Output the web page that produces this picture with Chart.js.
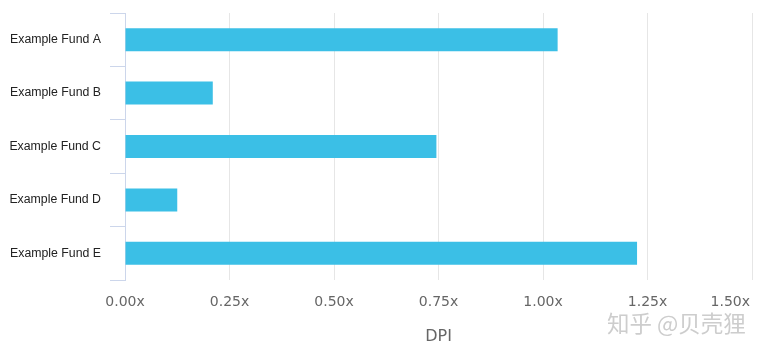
<!doctype html>
<html>
<head>
<title>DPI Chart</title>
<script src="https://cdn.jsdelivr.net/npm/chart.js@4/dist/chart.umd.min.js"></script>
<style>
html, body { margin: 0; padding: 0; background: #fff; }
#container { width: 768px; height: 354px; }
</style>
</head>
<body>
	<div id="container">
		<canvas id="canvas"></canvas>
	</div>

	<script>
		// chart values
		var funds = ['Example Fund A', 'Example Fund B', 'Example Fund C', 'Example Fund D', 'Example Fund E'];
		var dpiValues = [1.035, 0.21, 0.745, 0.125, 1.225];
		var xTickStep = 0.25;
		var xMax = 1.5;
		var xTitle = 'DPI';
		var watermark = '知乎 @贝壳狸';

		function fmtTick(v)
		{
			return Number(v).toFixed(2) + 'x';
		}

		// x tick labels drawn from the scale, last one pulled inside the canvas
		var xLabelsPlugin = {
			id: 'xLabels',
			afterDraw: function(chart) {
				var ctx = chart.ctx;
				var scale = chart.scales.x;
				ctx.save();
				ctx.font = '14px "DejaVu Sans"';
				ctx.fillStyle = '#666666';
				ctx.textBaseline = 'middle';
				ctx.textAlign = 'left';
				scale.ticks.forEach(function(t) {
					var txt = fmtTick(t.value);
					var w = ctx.measureText(txt).width;
					var x = scale.getPixelForValue(t.value) - w / 2;
					if (x + w > chart.width - 18) x = chart.width - 18 - w;
					ctx.fillText(txt, x, 302);
				});
				// watermark
				ctx.font = '22.5px "Noto Sans CJK SC"';
				ctx.fillStyle = '#cdcdcd';
				ctx.textBaseline = 'alphabetic';
				ctx.fillText(watermark, 607, 332);
				ctx.restore();
			}
		};

		var ctx = document.getElementById('canvas').getContext('2d');
		window.myChart = new Chart(ctx, {
			type: 'bar',
			data: {
				labels: funds,
				datasets: [{
					label: xTitle,
					data: dpiValues,
					backgroundColor: '#3bbfe6',
					borderWidth: 0,
					categoryPercentage: 1,
					barPercentage: 0.43
				}]
			},
			options: {
				indexAxis: 'y',
				responsive: true,
				maintainAspectRatio: false,
				animation: false,
				layout: { padding: { top: 13, right: 16, left: 0, bottom: 0 } },
				plugins: {
					legend: { display: false },
					tooltip: { enabled: false }
				},
				scales: {
					x: {
						min: 0,
						max: xMax,
						ticks: { stepSize: xTickStep, display: false, callback: fmtTick },
						grid: { color: '#e6e6e6', lineWidth: 1, drawTicks: false },
						border: { display: false },
						title: {
							display: true,
							text: xTitle,
							color: '#666666',
							font: { family: 'DejaVu Sans', size: 16 },
							padding: { top: 0, bottom: 8 }
						},
						afterFit: function(s) {
							s.height = 74;
							s.paddingLeft = 0;
							s.paddingRight = 0;
						}
					},
					y: {
						offset: true,
						ticks: {
							color: '#222222',
							font: { family: 'Liberation Sans', size: 12.3 },
							padding: 9
						},
						grid: {
							offset: true,
							drawOnChartArea: false,
							tickLength: 15,
							color: '#ccd6eb'
						},
						border: { display: true, color: '#ccd6eb', width: 1 },
						afterFit: function(s) {
							s.width = 125;
							s.paddingTop = 0;
							s.paddingBottom = 0;
						}
					}
				}
			},
			plugins: [xLabelsPlugin]
		});
	</script>
</body>
</html>
